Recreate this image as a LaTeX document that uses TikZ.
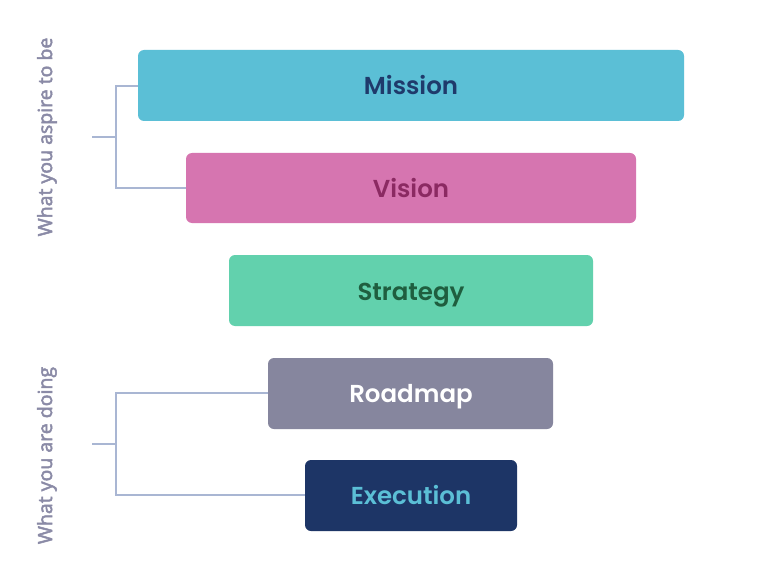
\documentclass[tikz,border=0pt]{standalone}
\usepackage{fontspec}
\newfontfamily\popfont{Poppins SemiBold}
\newfontfamily\sidefont{Open Sans}[FakeBold=2.5]
\definecolor{cMission}{HTML}{5BBFD6}
\definecolor{cMissionT}{HTML}{1F3A6B}
\definecolor{cVision}{HTML}{D675B0}
\definecolor{cVisionT}{HTML}{8B2A62}
\definecolor{cStrategy}{HTML}{62D1AD}
\definecolor{cStrategyT}{HTML}{1F5E3F}
\definecolor{cRoadmap}{HTML}{86869E}
\definecolor{cExec}{HTML}{1D3566}
\definecolor{cLine}{HTML}{A9B6D3}
\definecolor{cSide}{HTML}{8A8AA6}
\begin{document}
\begin{tikzpicture}[x=1pt,y=-1pt,
  levelbox/.style={rounded corners=6pt, inner sep=0pt},
  lvltext/.style={font=\popfont\fontsize{24.5}{28}\selectfont, inner sep=0pt, anchor=base},
  bracket/.style={draw=cLine, line width=1.2pt},
  sidelabel/.style={font=\sidefont\fontsize{19.5}{23}\selectfont, text=cSide, rotate=90, inner sep=0pt}]
\useasboundingbox[fill=white] (0,0) rectangle (770,588);
% boxes
\fill[cMission, levelbox] (138,50) rectangle (684,121);
\node[lvltext, text=cMissionT] (mission) at (411,95) {Mission};
\fill[cVision, levelbox] (186,153) rectangle (636,223);
\node[lvltext, text=cVisionT] (vision) at (411,197) {Vision};
\fill[cStrategy, levelbox] (229,255) rectangle (593,326);
\node[lvltext, text=cStrategyT] (strategy) at (411,300) {Strategy};
\fill[cRoadmap, levelbox] (268,358) rectangle (553,429);
\node[lvltext, text=white] (roadmap) at (411,402) {Roadmap};
\fill[cExec, levelbox] (305,460) rectangle (517,531);
\node[lvltext, text=cMission] (execution) at (411,504) {Execution};
% anchors
\coordinate (mL) at (138,86);
\coordinate (vL) at (186,188);
\coordinate (rL) at (268,393);
\coordinate (eL) at (305,495);
\coordinate (a1) at (92,137);
\coordinate (a2) at (92,444);
% brackets
\draw[bracket] (mL) -- (116,86) -- (116,188) -- (vL);
\draw[bracket] (a1) -- (116,137);
\draw[bracket] (rL) -- (116,393) -- (116,495) -- (eL);
\draw[bracket] (a2) -- (116,444);
% side labels
\node[sidelabel] (aspire) at (47,137) {What you aspire to be};
\node[sidelabel] (doing) at (47,455.5) {What you are doing};
\end{tikzpicture}
\end{document}
